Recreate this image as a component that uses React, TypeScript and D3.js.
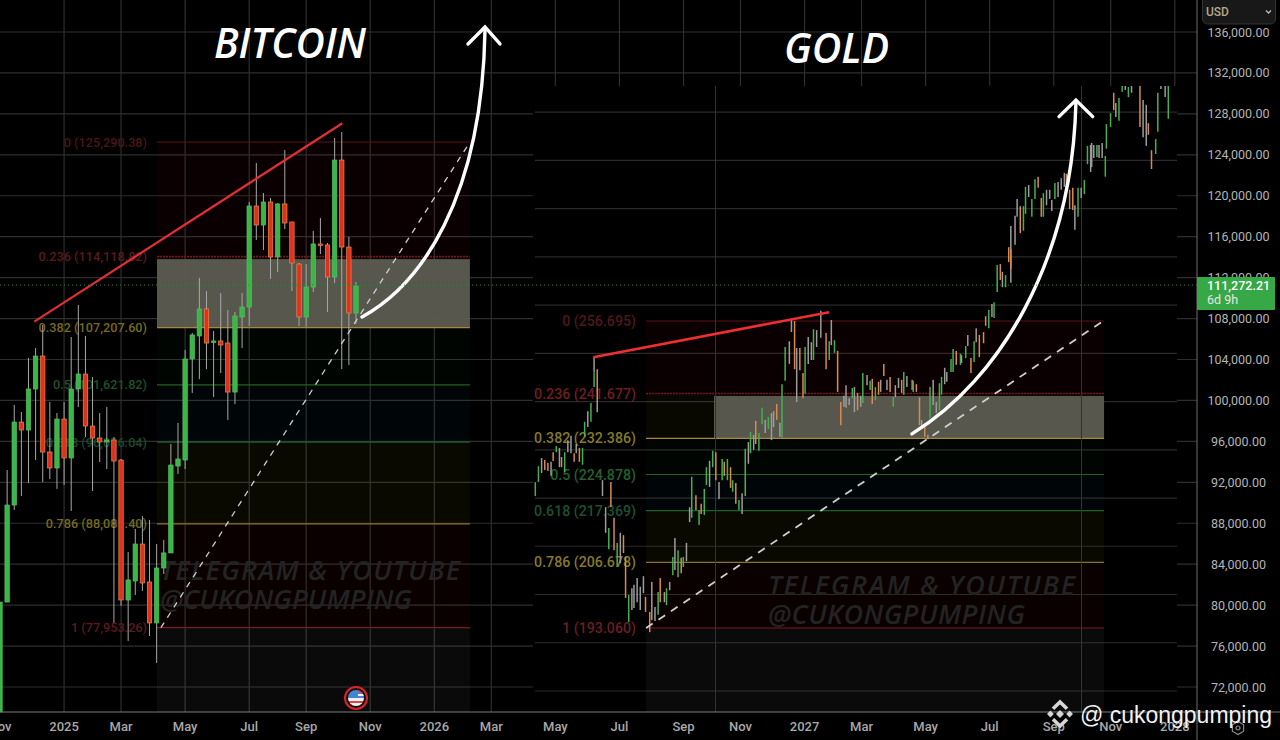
import React from "react";
import * as d3 from "d3";

// ---------- BTC weekly candles: [open, high, low, close] ----------
const btcCandlesLate2024: number[][] = [
  [69560, 80300, 69560, 80300], [80300, 93200, 80300, 89780], [89780, 99560, 89300, 97890],
  [97890, 98870, 90660, 97110], [97110, 104150, 91930, 101120], [101120, 105120, 94180, 104340],
  [104340, 107370, 92030, 94960], [94960, 99850, 92320, 93400], [93400, 98770, 91350, 98180],
];
const btcCandlesEarly2025: number[][] = [
  [98180, 99850, 91740, 94380], [94380, 106200, 89200, 101120], [101120, 109330, 99360, 102580],
  [102580, 106300, 96430, 97500], [97500, 102290, 91150, 96330], [96330, 98770, 93990, 95940],
  [95940, 99360, 93300, 96130], [96130, 96430, 78260, 94080], [94180, 94280, 79920, 80500],
  [80500, 85190, 76500, 82460], [82360, 87440, 80990, 85970], [85970, 88710, 81380, 82160],
  [82260, 88320, 76980, 78260], [78260, 85970, 74350, 83630], [83630, 86370, 83040, 85100],
  [85100, 95740, 85100, 93690], [93590, 97800, 92810, 94280],
];
const btcCandlesMid2025: number[][] = [
  [94180, 104930, 93300, 104050], [104050, 106590, 100730, 106400], [106300, 111970, 102090, 108940],
  [108940, 110690, 103070, 105610], [105710, 106790, 100340, 105810], [105810, 110500, 102680, 105420],
  [105610, 108840, 98090, 100820], [100820, 108640, 99650, 108250], [108150, 110500, 105120, 109130],
  [109130, 119390, 107270, 119000], [119000, 123200, 115680, 117140], [117140, 120270, 114700, 119390],
  [119390, 119780, 111870, 114020], [114020, 119290, 112550, 119200], [119200, 124470, 116750, 117340],
  [117440, 117440, 110690, 113430], [113330, 113430, 107270, 108150], [108150, 113330, 107180, 111080],
  [111080, 116560, 110600, 115290], [115290, 117830, 114310, 115190], [115190, 115380, 108640, 112060],
  [112060, 125640, 111470, 123490], [123490, 126230, 103070, 114990], [114990, 115970, 103460, 108540],
  [108540, 111570, 107470, 111180],
];
const btcCandles = [...btcCandlesLate2024, ...btcCandlesEarly2025, ...btcCandlesMid2025];

// ---------- GOLD bars: [day, high, low, direction] ----------
const goldBarsA: number[][] = [
  [0,223.3,220.4,1],[3,226.6,223.3,1],[6,228.3,225.2,0],[9,227.9,225.8,-1],[12,227.3,225.6,-1],[15,227.5,224.6,0],
  [17,229.5,227.7,-1],[20,230.8,229.5,1],[23,230.4,226.4,0],[25,228.5,226.4,-1],[28,229.5,225.4,1],[31,232.0,229.5,0],
  [34,232.9,229.3,0],[37,229.3,227.5,-1],[39,231.2,229.3,0],[42,230.4,227.5,-1],[45,230.4,226.9,1],[47,235.8,232.7,1],
  [50,238.0,234.7,0],[53,239.7,235.8,1],[56,249.2,246.0,0],[56,246.0,243.0,1],[59,246.7,239.9,-1],[59,239.9,237.8,0],
  [64,223.7,220.4,0],[67,218.1,212.8,0],[70,213.8,209.4,1],[72,223.3,218.1,-1],[75,215.9,209.2,-1],[78,210.7,205.7,1],
  [81,212.8,206.5,0],[84,212.3,208.6,-1],[86,207.8,199.3,-1],[89,199.9,194.3,1],[92,201.3,196.8,0],[94,202.0,197.2,0],
  [97,203.4,198.4,0],[100,201.6,196.8,0],[103,203.8,200.3,0],[105,199.5,196.4,-1],[109,196.4,192.2,-1],[111,202.6,194.7,0],
  [114,197.4,194.5,0],[117,200.5,195.8,1],[119,203.4,198.4,-1],[123,200.5,198.4,0],[125,201.3,197.8,1],[128,202.6,200.9,0],
  [131,207.8,204.0,1],[133,211.7,205.1,0],[136,209.2,203.6,1],[139,207.6,204.4,-1],[141,207.8,205.7,1],[144,210.7,206.9,0],
];
const goldBarsB: number[][] = [
  [147,218.1,215.0,0],[149,224.4,215.9,1],[153,220.6,217.5,-1],[156,217.5,214.4,1],[158,218.8,216.7,-1],[161,221.9,216.5,1],
  [163,226.4,222.7,1],[166,227.7,222.3,0],[169,229.8,226.4,1],[172,229.5,223.7,-1],[175,223.3,219.8,0],[178,228.1,223.7,1],
  [180,227.5,224.6,-1],[183,228.1,223.7,1],[186,226.4,222.1,-1],[188,223.7,221.3,1],[191,223.1,218.8,-1],[194,219.6,217.5,1],
  [197,221.0,216.7,0],[200,230.2,220.4,1],[203,231.6,227.1,0],[205,233.7,229.3,1],[208,233.1,230.0,0],[210,236.0,231.2,-1],
  [213,233.5,229.8,1],[216,238.7,235.3,1],[219,236.2,233.5,0],[222,236.8,234.3,1],[225,237.6,232.0,0],[227,238.0,234.7,0],
  [230,239.5,236.2,-1],[233,235.6,232.7,0],[235,243.6,232.4,1],[238,251.3,244.3,1],[242,252.5,247.8,0],[244,256.9,254.4,0],
  [247,256.7,246.7,-1],[249,251.1,239.9,0],[252,251.1,246.5,-1],[255,245.9,240.7,-1],[257,251.3,241.6,1],[260,253.4,247.8,0],
  [263,252.3,248.6,0],[265,255.0,248.6,1],[268,254.8,251.3,0],[272,258.8,253.2,0],[277,254.2,246.7,-1],[280,252.5,248.6,1],
  [282,256.9,251.7,0],[285,252.7,250.1,1],[288,250.5,242.0,-1],
];
const goldBarsC: number[][] = [
  [291,239.9,235.1,-1],[294,241.2,238.9,0],[296,243.4,238.7,0],[299,240.7,239.3,0],[302,242.8,240.7,1],[304,243.0,237.8,0],
  [307,241.8,238.2,-1],[310,241.2,238.9,0],[312,245.9,239.7,1],[316,245.5,243.4,0],[319,244.3,242.4,1],[321,244.7,239.5,-1],
  [324,243.0,240.3,1],[327,244.1,241.4,-1],[329,244.5,242.0,0],[332,247.8,245.3,-1],[335,244.5,242.4,0],[338,245.1,242.0,-1],
  [341,240.9,238.9,1],[343,243.4,240.9,0],[346,244.9,242.8,0],[349,244.5,241.8,-1],[351,246.1,241.4,1],[354,245.3,243.0,0],
  [359,244.5,242.4,-1],[360,244.3,242.0,1],[363,243.6,242.0,-1],[366,240.9,235.1,-1],[368,236.2,234.5,0],[371,234.9,232.7,-1],
  [374,233.1,232.2,0],[376,243.0,236.6,1],[379,244.5,239.3,0],[382,239.9,237.6,0],[385,243.8,238.2,1],[387,245.1,241.4,1],
  [390,247.0,243.6,0],[392,246.1,244.1,0],[396,248.8,246.1,1],[398,250.9,246.1,1],[401,250.5,247.6,-1],[405,249.9,247.6,1],
  [406,249.6,248.0,0],[410,251.5,249.0,1],[412,253.8,251.5,0],[415,249.0,245.9,-1],[418,252.5,248.2,1],[420,255.2,252.3,0],
  [423,253.8,249.2,-1],[427,254.4,252.1,-1],[429,257.7,255.7,-1],[432,259.0,255.2,1],[435,260.2,257.5,0],[437,260.6,257.3,1],
];
const goldBarsD: number[][] = [
  [440,268.3,262.7,1],[443,268.5,265.2,-1],[445,266.9,263.7,0],[448,266.2,263.7,1],[451,272.0,268.9,-1],[453,276.4,264.6,0],
  [453,271.5,267.5,-1],[457,278.5,272.5,0],[459,282.0,278.3,0],[462,280.5,274.9,-1],[465,280.5,275.4,1],[467,284.5,278.9,1],
  [470,284.9,282.4,0],[473,282.0,278.3,1],[476,286.1,282.0,1],[479,286.6,284.3,-1],[482,282.2,278.3,-1],[484,283.2,278.3,1],
  [487,283.9,280.7,0],[490,283.9,282.0,0],[492,281.8,279.5,0],[495,285.3,282.0,1],[498,285.5,282.4,0],[501,286.3,283.9,0],
  [504,287.4,284.5,0],[506,287.2,284.3,-1],[509,283.9,279.9,-1],[512,284.3,279.7,-1],[514,280.7,275.6,0],[517,284.3,278.3,1],
  [520,284.3,282.2,0],[523,285.9,283.0,1],[526,293.0,289.2,1],[529,293.2,287.6,0],[530,293.6,288.6,0],[532,293.2,290.5,0],
  [535,293.2,290.7,1],[537,293.2,290.5,0],[540,293.6,290.5,0],[543,290.9,286.6,1],[544,297.5,292.4,1],[548,299.8,296.9,1],
  [551,304.0,300.4,-1],[553,301.9,299.0,0],[556,302.9,298.2,1],[559,305.4,304.2,1],[562,305.4,304.6,0],[565,305.2,303.1,1],
  [568,305.4,304.0,0],[576,305.4,296.9,-1],[579,302.5,294.8,0],[582,301.5,293.0,0],[584,297.7,295.3,-1],[587,292.1,288.2,-1],
  [591,294.4,291.3,1],[593,304.0,295.9,1],[596,305.4,304.8,0],[600,305.4,303.1,0],[603,305.4,298.6,1],
];
const goldBars = [...goldBarsA, ...goldBarsB, ...goldBarsC, ...goldBarsD];

// ---------- axes ----------
const priceTicks = d3.range(72000, 136001, 4000);
const lastPrice = 111272.21;
const timeTicks: [number, string][] = [
  [0,"Nov"],[9,"2025"],[17,"Mar"],[26,"May"],[35,"Jul"],[43,"Sep"],[52,"Nov"],[61,"2026"],[69,"Mar"],[78,"May"],
  [87,"Jul"],[96,"Sep"],[104,"Nov"],[113,"2027"],[121,"Mar"],[130,"May"],[139,"Jul"],[148,"Sep"],[156,"Nov"],[165,"2028"],
];
const goldGridPrices = d3.range(180, 301, 10);
const goldGridDays = [171.7, 520.3];

// ---------- fibonacci ----------
const btcFibLevels = [125290.38, 114118.82, 107207.60, 101621.82, 96036.04, 88081.40, 77953.26];
const goldFibLevels = [256.695, 241.677, 232.386, 224.878, 217.369, 206.678, 193.060];
const btcFibLabels = ["0 (125,290.38)","0.236 (114,118.82)","0.382 (107,207.60)","0.5 (101,621.82)","0.618 (96,036.04)","0.786 (88,081.40)","1 (77,953.26)"];
const goldFibLabels = ["0 (256.695)","0.236 (241.677)","0.382 (232.386)","0.5 (224.878)","0.618 (217.369)","0.786 (206.678)","1 (193.060)"];
const fibLineColors = ["#5a1218","#7a1226","#a8893a","#24602a","#1f6030","#8a7430","#7a1c20"];
const fibTextColors = ["#4a1616","#5c1a1e","#75691f","#1f5228","#1c4a2a","#75691f","#5c1a1e"];
const goldFibTextColors = ["#4f1818","#6e1e22","#857a26","#24602e","#1d5030","#857a26","#6a1e22"];
const fibBandColors = ["#ff0010","#ffff00","#00ff20","#00b0ff","#ffff00","#ff0000","#ffffff"];
const fibBandAlphas = [0.04, 0.03, 0.02, 0.03, 0.035, 0.04, 0.04];

// ---------- annotations ([bar or day, price]) ----------
const btcTrend = [[4.82, 107700], [48.08, 127080]];
const btcDash = [[22.6, 77953], [66, 125290]];
const btcCurve = [[50.84, 108150], [59, 111280], [67.7, 119590], [68.12, 136200]];
const btcHead = [[65.73, 134830], [68.12, 136490], [70.22, 134830]];
const goldTrend = [[55.3, 249.2], [279.8, 258.5]];
const goldDash = [[105.5, 193.06], [540, 256.55]];
const goldCurve = [[358.8, 233.3], [442.7, 244.5], [511.3, 269.3], [515, 301.9]];
const goldHead = [[498.9, 299.05], [515, 302.5], [531, 299.05]];

const W = 1280, H = 740, AX = 1197, BOT = 712;
const x = d3.scaleLinear().domain([0, 50]).range([0, 356]);
const y = d3.scaleLinear().domain([72000, 136000]).range([687, 32]);
const yFib = d3.scaleLinear().domain([77953.26, 125290.38]).range([627.7, 142]);
const xG = d3.scaleLinear().domain([0, 603]).range([535.3, 1168.3]);
const yG = d3.scaleLinear().domain([193.06, 256.695]).range([628, 321]);
const fmt = d3.format(",.2f");
const UI = "Roboto, 'Noto Sans', sans-serif";
const TITLE = "'Open Sans', sans-serif";

function curvePath(p: number[][], fx: any, fy: any) {
  const ctx = d3.path();
  ctx.moveTo(fx(p[0][0]), fy(p[0][1]));
  ctx.bezierCurveTo(fx(p[1][0]), fy(p[1][1]), fx(p[2][0]), fy(p[2][1]), fx(p[3][0]), fy(p[3][1]));
  return ctx.toString();
}

function Fib(props: { levels: number[]; labels: string[]; colors: string[]; sy: any; x0: number; x1: number; boxX: number; labelX: number; size: number }) {
  const { levels, labels, colors, sy, x0, x1, boxX, labelX, size } = props;
  return (
    <g>
      {levels.map((lv, i) => {
        const top = sy(lv);
        const bottom = i < levels.length - 1 ? sy(levels[i + 1]) : BOT;
        return <rect key={i} x={x0} y={top} width={x1 - x0} height={bottom - top} fill={fibBandColors[i]} fillOpacity={fibBandAlphas[i]} />;
      })}
      <rect x={boxX} y={sy(levels[1]) + 2.5} width={x1 - boxX} height={sy(levels[2]) - sy(levels[1]) - 2.5} fill="#5a5a50" fillOpacity={0.97} />
      {levels.map((lv, i) => (
        <text key={i} x={labelX} y={sy(lv)} dy="0.36em" textAnchor="end" fontFamily={UI} fontWeight={500} fontSize={size} fill={colors[i]}>{labels[i]}</text>
      ))}
      {levels.map((lv, i) => (
        <line key={i} x1={x0} x2={x1} y1={sy(lv)} y2={sy(lv)} stroke={fibLineColors[i]} strokeWidth={i === 1 ? 1.6 : 1.2} strokeDasharray={i === 1 ? "2 1" : undefined} />
      ))}
    </g>
  );
}

export default function App() {
  const line = d3.line<number[]>();
  return (
    <svg width={W} height={H} viewBox={`0 0 ${W} ${H}`} style={{ position: "fixed", left: 0, top: 0, background: "#000" }}>
      <rect width={W} height={H} fill="#000" />
      {/* main grid */}
      {priceTicks.map((t) => <line key={t} x1={0} x2={AX} y1={y(t)} y2={y(t)} stroke="#2e2e2e" strokeWidth={1.2} />)}
      {timeTicks.slice(1).map(([i]) => <line key={i} x1={x(i)} x2={x(i)} y1={0} y2={BOT} stroke="#2e2e2e" strokeWidth={1.2} />)}

      {/* BITCOIN panel */}
      <Fib levels={btcFibLevels} labels={btcFibLabels} colors={fibTextColors} sy={yFib} x0={x(22.05)} x1={x(66)} boxX={x(22.05)} labelX={147} size={12.7} />
      <text x={160} y={580} fontFamily={TITLE} fontStyle="italic" fontWeight={600} fontSize={27} fill="#232323" textLength={300}>TELEGRAM &amp; YOUTUBE</text>
      <text x={160} y={609} fontFamily={TITLE} fontStyle="italic" fontWeight={600} fontSize={27} fill="#232323" textLength={252}>@CUKONGPUMPING</text>
      {btcCandles.map((d, i) => {
        const [o, h, l, c] = d;
        const up = c >= o;
        const top = y(Math.max(o, c));
        const bh = Math.max(1.4, Math.abs(y(o) - y(c)));
        return (
          <g key={i}>
            <line x1={x(i)} x2={x(i)} y1={y(h)} y2={y(l)} stroke="#a8a8a8" strokeWidth={1} />
            <rect x={x(i) - 2.2} y={top} width={4.4} height={bh} fill={up ? "#3cb548" : "#e0301e"} stroke={up ? "#55c060" : "#eb8a48"} strokeWidth={0.7} />
          </g>
        );
      })}
      <path d={line([[x(btcDash[0][0]), yFib(btcDash[0][1])], [x(btcDash[1][0]), yFib(btcDash[1][1])]])!} stroke="#cfcfcf" strokeWidth={1.3} strokeDasharray="6 6" fill="none" />
      <path d={line(btcTrend.map((p) => [x(p[0]), y(p[1])]))!} stroke="#e03034" strokeWidth={2.2} fill="none" />
      <path d={curvePath(btcCurve, x, y)} stroke="#fff" strokeWidth={3.4} fill="none" strokeLinecap="round" />
      <path d={line(btcHead.map((p) => [x(p[0]), y(p[1])]))!} stroke="#fff" strokeWidth={3.4} fill="none" strokeLinecap="round" strokeLinejoin="miter" />
      {/* event flag */}
      <g transform={`translate(${x(50)},698)`}>
        <circle r={11} fill="#111" stroke="#e0202a" strokeWidth={2} />
        <clipPath id="flagClip"><circle r={8} /></clipPath>
        <g clipPath="url(#flagClip)">
          <rect x={-8} y={-8} width={16} height={8} fill="#3f86d8" />
          <rect x={-8} y={0} width={16} height={3} fill="#f0f0f0" />
          <rect x={-8} y={3} width={16} height={2} fill="#d84a4a" />
          <rect x={-8} y={5} width={16} height={3} fill="#f0f0f0" />
          <rect x={2} y={-8} width={6} height={3} fill="#d84a4a" />
          <rect x={2} y={-4} width={6} height={2} fill="#f0f0f0" />
        </g>
      </g>
      <text x={290} y={58} textAnchor="middle" fontFamily={TITLE} fontStyle="italic" fontWeight={600} fontSize={41} fill="#fff" textLength={152} lengthAdjust="spacingAndGlyphs">BITCOIN</text>

      {/* GOLD panel */}
      <rect x={533} y={86} width={644} height={BOT - 86} fill="#000" />
      {goldGridPrices.map((t) => <line key={t} x1={535} x2={1177} y1={yG(t)} y2={yG(t)} stroke="#2a2a2a" strokeWidth={1.2} />)}
      <Fib levels={goldFibLevels} labels={goldFibLabels} colors={goldFibTextColors} sy={yG} x0={xG(105.5)} x1={xG(541.8)} boxX={xG(170.2)} labelX={636} size={14.2} />
      {goldGridDays.map((d) => <line key={d} x1={xG(d)} x2={xG(d)} y1={86} y2={BOT} stroke="#343434" />)}
      <text x={768} y={595} fontFamily={TITLE} fontStyle="italic" fontWeight={600} fontSize={27} fill="#232323" textLength={307}>TELEGRAM &amp; YOUTUBE</text>
      <text x={768} y={624} fontFamily={TITLE} fontStyle="italic" fontWeight={600} fontSize={27} fill="#232323" textLength={257}>@CUKONGPUMPING</text>
      {goldBars.map((b, i) => (
        <line key={i} x1={xG(b[0])} x2={xG(b[0])} y1={yG(b[1])} y2={yG(b[2])} strokeWidth={1.5}
          stroke={b[3] > 0 ? "#45b04d" : b[3] < 0 ? "#d98a50" : "#9c9c9c"} />
      ))}
      <path d={line(goldDash.map((p) => [xG(p[0]), yG(p[1])]))!} stroke="#cfcfcf" strokeWidth={1.8} strokeDasharray="8 7" fill="none" />
      <path d={line(goldTrend.map((p) => [xG(p[0]), yG(p[1])]))!} stroke="#ee3032" strokeWidth={2.6} fill="none" />
      <path d={curvePath(goldCurve, xG, yG)} stroke="#fff" strokeWidth={3.4} fill="none" strokeLinecap="round" />
      <path d={line(goldHead.map((p) => [xG(p[0]), yG(p[1])]))!} stroke="#fff" strokeWidth={3.4} fill="none" strokeLinecap="round" />
      <text x={836.5} y={63} textAnchor="middle" fontFamily={TITLE} fontStyle="italic" fontWeight={600} fontSize={41} fill="#fff" textLength={105} lengthAdjust="spacingAndGlyphs">GOLD</text>

      {/* last price line */}
      <line x1={0} x2={AX} y1={y(lastPrice)} y2={y(lastPrice)} stroke="#1f8a30" strokeDasharray="1 3" strokeWidth={1} />

      {/* axes */}
      <rect x={AX} y={0} width={W - AX} height={BOT} fill="#000" />
      <line x1={AX} x2={AX} y1={0} y2={H} stroke="#6e6e6e" />
      <line x1={0} x2={W} y1={BOT} y2={BOT} stroke="#7a7a7a" />
      {priceTicks.map((t) => (
        <text key={t} x={1238.5} y={y(t)} dy="0.36em" textAnchor="middle" fontFamily={UI} fontSize={12.5} fill="#b4b4b4">{fmt(t)}</text>
      ))}
      {timeTicks.map(([i, s]) => (
        <text key={i} x={x(i)} y={731} textAnchor="middle" fontFamily={UI} fontWeight={500} fontSize={13} fill="#a8a8a8">{s}</text>
      ))}
      {/* last price tag */}
      <rect x={AX} y={277} width={78} height={33} fill="#36a845" rx={1} />
      <text x={1207} y={289.5} fontFamily={UI} fontWeight={500} fontSize={12.5} fill="#fff">{fmt(lastPrice)}</text>
      <text x={1207} y={304} fontFamily={UI} fontSize={12.5} fill="#e6e6e6">6d 9h</text>
      {/* currency */}
      <rect x={1202.5} y={-6} width={73} height={30} rx={5} fill="#181818" stroke="#333" />
      <text x={1206} y={16} fontFamily={UI} fontWeight={500} fontSize={12} fill="#b5a68c">USD</text>
      <path d="M1266,10.5 l2.5,2.5 l2.5,-2.5" stroke="#bbb" strokeWidth={1.3} fill="none" />
      {/* settings */}
      <g transform="translate(1238,728)" stroke="#8a8a8a" fill="none" strokeWidth={1.2}>
        <path d={d3.line()(d3.range(7).map((k) => [6.5 * Math.cos((k * Math.PI) / 3 + Math.PI / 6), 6.5 * Math.sin((k * Math.PI) / 3 + Math.PI / 6)]))!} />
        <circle r={2} />
      </g>

      {/* watermark */}
      <g transform="translate(1060,714)" fill="#d6d6d6">
        <rect x={-2.8} y={-2.8} width={5.6} height={5.6} transform="rotate(45)" />
        <rect x={-12} y={-2.4} width={4.8} height={4.8} transform="rotate(45 -9.6 0)" />
        <rect x={7.2} y={-2.4} width={4.8} height={4.8} transform="rotate(45 9.6 0)" />
        <path d="M-7,-5.2 L0,-12 L7,-5.2" fill="none" stroke="#d6d6d6" strokeWidth={3.6} />
        <path d="M-7,5.2 L0,12 L7,5.2" fill="none" stroke="#d6d6d6" strokeWidth={3.6} />
      </g>
      <text x={1080} y={723} fontFamily="'Liberation Sans', Arial, sans-serif" fontSize={23} fill="#f2f2f2" textLength={192}>@ cukongpumping</text>
    </svg>
  );
}
